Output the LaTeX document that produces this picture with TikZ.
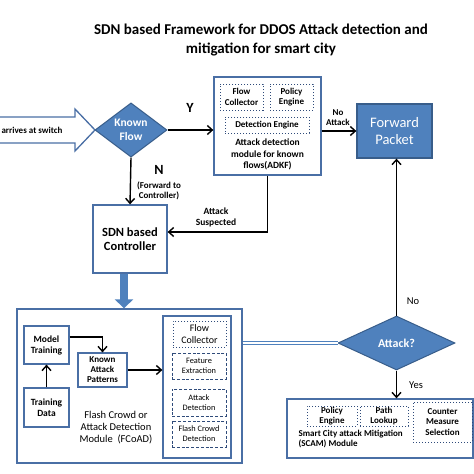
\documentclass[tikz,border=0pt]{standalone}
\usepackage{fontspec}
\setmainfont{Carlito}
\usepackage{tikz}
\usetikzlibrary{positioning,arrows.meta,shapes.geometric}
\definecolor{sdnBlue}{HTML}{4F81BD}
\definecolor{sdnEdge}{HTML}{385D8A}
\definecolor{frameBlue}{HTML}{4A6FA5}
\definecolor{subEdge}{HTML}{2F4B7A}

\begin{document}
\begin{tikzpicture}[x=1pt, y=-1pt,
  every node/.style={font=\fontsize{8}{9}\selectfont},
  box/.style={rectangle, draw=frameBlue, line width=1.3pt, fill=white, align=center, inner sep=1pt},
  decision/.style={diamond, draw=sdnEdge, line width=1pt, fill=sdnBlue, text=white, inner sep=0pt, align=center, font=\fontsize{11.5}{13.5}\selectfont\bfseries},
  subbox/.style={rectangle, draw=subEdge, line width=1pt, dotted, align=center, inner sep=0pt, font=\fontsize{9}{10.5}\selectfont\bfseries},
  dashbox/.style={subbox, dash pattern=on 3pt off 1.8pt, font=\fontsize{8.3}{10}\selectfont},
  flow/.style={-{Straight Barb[length=5pt,width=9pt]}, line width=1.4pt},
  lbl/.style={align=center, font=\fontsize{9}{10.5}\selectfont\bfseries}
]
\useasboundingbox (0,0) rectangle (474,474);

% title
\node[align=center, font=\fontsize{15}{19}\selectfont\bfseries] (title) at (261,40) {SDN based Framework for DDOS Attack detection and\\mitigation for smart city};

% packet entering
\draw[draw=frameBlue, line width=1.3pt, fill=white] (0,117) -- (75,117) -- (75,109) -- (95,130) -- (75,151) -- (75,143) -- (0,143);
\node[anchor=east, font=\fontsize{9}{10}\selectfont\bfseries] (arrives) at (66,130) {arrives at switch};

% known flow check
\node[decision, minimum width=72pt, minimum height=50pt] (known) at (131,130) {Known\\Flow};

% ADKF
\node[box, minimum width=107pt, minimum height=98pt] (adkf) at (267.5,126) {};
\node[subbox, minimum width=43pt, minimum height=26pt] (adkfflow) at (241.5,97) {Flow\\Collector};
\node[subbox, minimum width=43pt, minimum height=26pt, right=6pt of adkfflow] (adkfpolicy) {Policy\\Engine};
\node[subbox, minimum width=84pt, minimum height=16pt] (adkfdetect) at (267,125) {Detection Engine};
\node[lbl, font=\fontsize{9.5}{11.5}\selectfont\bfseries] (adkftext) at (267.5,154.5) {Attack detection\\module for known\\flows(ADKF)};

% forward packet
\node[box, draw=sdnEdge, fill=sdnBlue, text=white, minimum width=75pt, minimum height=54pt, font=\fontsize{14.5}{17}\selectfont] (fwd) at (394.5,131) {Forward\\Packet};

% controller
\node[box, minimum width=74pt, minimum height=68pt, font=\fontsize{12.5}{14}\selectfont\bfseries] (sdn) at (130,239) {SDN based\\Controller};

% FCoAD
\node[box, minimum width=225pt, minimum height=154pt] (fcoad) at (129.5,386) {};
\node[box, line width=1.2pt, minimum width=45pt, minimum height=38pt, font=\fontsize{9.5}{11}\selectfont\bfseries] (model) at (46.5,345) {Model\\Training};
\node[box, line width=1.2pt, minimum width=45pt, minimum height=39pt, font=\fontsize{9.5}{11}\selectfont\bfseries] (train) at (46.5,407.5) {Training\\Data};
\node[box, line width=1.2pt, minimum width=49pt, minimum height=34pt, font=\fontsize{9}{10}\selectfont\bfseries] (known attack) at (102.5,370) {Known\\Attack\\Patterns};
\node[box, line width=1.2pt, minimum width=68pt, minimum height=142pt] (column) at (197,387) {};
\node[subbox, minimum width=53pt, minimum height=26pt, font=\fontsize{10}{11.5}\selectfont] (colflow) at (199.5,334) {Flow\\Collector};
\node[dashbox, minimum width=54pt, minimum height=26pt] (feature) at (199,366) {Feature\\Extraction};
\node[dashbox, minimum width=54pt, minimum height=27pt] (attackdet) at (199,402.5) {Attack\\Detection};
\node[dashbox, minimum width=54pt, minimum height=26pt] (crowddet) at (199,434) {Flash Crowd\\Detection};
\node[align=center, font=\fontsize{10.5}{12}\selectfont] (fcoadtext) at (116,428) {Flash Crowd or\\Attack Detection\\Module~~(FCoAD)};

% attack decision
\node[decision, minimum width=117pt, minimum height=54pt, font=\fontsize{12}{14}\selectfont\bfseries] (attack) at (396.5,343) {Attack?};

% SCAM
\node[box, minimum width=186pt, minimum height=59pt] (scam) at (380,428.5) {};
\node[subbox, minimum width=50pt, minimum height=20pt] (scampolicy) at (332,416) {Policy\\Engine};
\node[subbox, minimum width=48pt, minimum height=20pt] (scampath) at (384,416) {Path\\Lookup};
\node[subbox, minimum width=59pt, minimum height=40pt] (scamcounter) at (442.5,422) {Counter\\Measure\\Selection};
\node[anchor=west, align=left, font=\fontsize{9}{10.5}\selectfont\bfseries] (scamtext) at (295,439) {Smart City attack Mitigation\\(SCAM) Module};

% connectors
\draw[flow] (known.east) -- (known.east -| adkf.west);
\node[font=\fontsize{14}{16}\selectfont\bfseries] (ylabel) at (190,108) {Y};
\draw[flow] (fwd.west -| adkf.east) -- (fwd.west);
\node[lbl] (noattack) at (338,117.5) {No\\Attack};
\draw[flow] (known.south) -- (sdn.north);
\node[font=\fontsize{14}{16}\selectfont\bfseries] (nlabel) at (159,170) {N};
\node[lbl] (tocontroller) at (159,191) {(Forward to\\Controller)};
\draw[flow] (adkf.south) |- ([yshift=7pt]sdn.east);
\node[lbl, font=\fontsize{9.5}{11}\selectfont\bfseries] (suspected) at (216,217.5) {Attack\\Suspected};
\draw[sdnBlue, line width=8pt, -{Triangle[length=9pt,width=18pt]}] ([xshift=-6pt]sdn.south) -- ([xshift=-6pt]sdn.south |- fcoad.north);
\draw[flow] (train) -- (model);
\draw[flow] ([yshift=8pt]model.east) -| (known attack.north);
\draw[flow] (known attack.east) -- (known attack.east -| column.west);
\draw[sdnBlue, line width=1.5pt, double=white, double distance=1.5pt] (fcoad.east |- attack.west) -- (attack.west);
\draw[flow] (attack.north) -- (attack.north |- fwd.south);
\node[font=\fontsize{10.5}{12}\selectfont] (nolabel) at (413,301) {No};
\draw[flow] (attack.south) -- (attack.south |- scam.north);
\node[font=\fontsize{10.5}{12}\selectfont] (yeslabel) at (416,385) {Yes};
\end{tikzpicture}
\end{document}
